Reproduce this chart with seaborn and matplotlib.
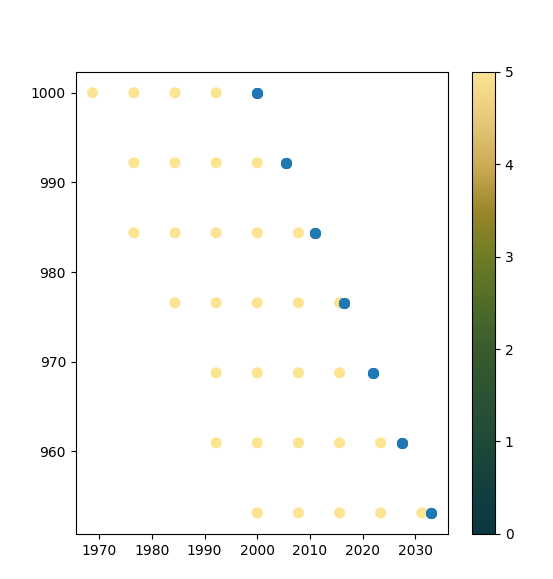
import numpy as np
import pandas as pd
import matplotlib as mpl
import matplotlib.pyplot as plt
import seaborn as sns
from matplotlib.colors import LinearSegmentedColormap

# yellow grid points (value 5 on the colour scale)
grid_x = [1968.75, 1976.5625, 1984.375, 1992.1875,
          1976.5625, 1984.375, 1992.1875, 2000.0,
          1976.5625, 1984.375, 1992.1875, 2000.0, 2007.8125,
          1984.375, 1992.1875, 2000.0, 2007.8125, 2015.625,
          1992.1875, 2000.0, 2007.8125, 2015.625,
          1992.1875, 2000.0, 2007.8125, 2015.625, 2023.4375,
          2000.0, 2007.8125, 2015.625, 2023.4375, 2031.25]
grid_y = [1000.0] * 4 + [992.1875] * 4 + [984.375] * 5 + [976.5625] * 5 \
    + [968.75] * 4 + [960.9375] * 5 + [953.125] * 5
grid_c = [5] * len(grid_x)

# blue diagonal points
diag_x = [2000.0, 2005.5, 2011.0, 2016.5, 2022.0, 2027.5, 2033.0]
diag_y = [1000.0, 992.1875, 984.375, 976.5625, 968.75, 960.9375, 953.125]

# colour scale, one colour every half step from 0 to 5
cmap_colors = ["#0b3742", "#123f3e", "#1e4a38", "#2b5232", "#3a5b2d", "#4f6c28",
               "#6f7c24", "#9a8629", "#cdac56", "#e6c97a", "#fde492"]
cmap = LinearSegmentedColormap.from_list("speedish", cmap_colors)
norm = mpl.colors.Normalize(vmin=0, vmax=5)

grid_df = pd.DataFrame({"x": grid_x, "y": grid_y, "c": grid_c})
diag_df = pd.DataFrame({"x": diag_x, "y": diag_y})

fig = plt.figure(figsize=(5.53, 5.79), dpi=100)
ax = fig.add_axes([0.137, 0.078, 0.673, 0.798])
cax = fig.add_axes([0.853, 0.078, 0.042, 0.798])

sns.scatterplot(data=grid_df, x="x", y="y", hue="c", palette=cmap, hue_norm=norm,
                s=64, linewidth=0, legend=False, ax=ax)
for k in range(3):
    sns.scatterplot(data=diag_df, x="x", y="y", color="#1f77b4", s=64,
                    linewidth=0, legend=False, ax=ax)
ax.set_xlabel("")
ax.set_ylabel("")

sm = mpl.cm.ScalarMappable(norm=norm, cmap=cmap)
fig.colorbar(sm, cax=cax)

fig.savefig("out.png", dpi=100)
